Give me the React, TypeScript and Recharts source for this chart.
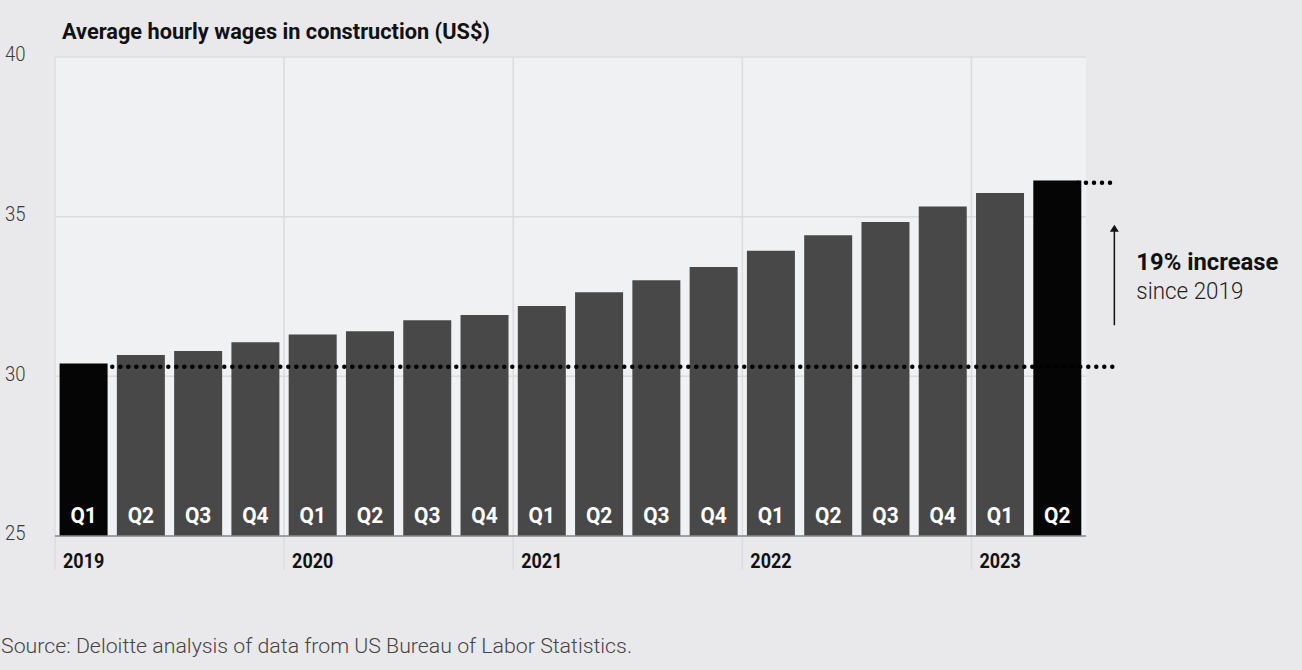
import React from 'react';
import { BarChart, Bar, XAxis, YAxis, CartesianGrid, Cell, LabelList, ReferenceLine } from 'recharts';

// quarterly average hourly wages in construction, US$
const years = ['2019', '2019', '2019', '2019', '2020', '2020', '2020', '2020', '2021', '2021', '2021', '2021', '2022', '2022', '2022', '2022', '2023', '2023'];
const quarters = ['Q1', 'Q2', 'Q3', 'Q4', 'Q1', 'Q2', 'Q3', 'Q4', 'Q1', 'Q2', 'Q3', 'Q4', 'Q1', 'Q2', 'Q3', 'Q4', 'Q1', 'Q2'];
const wages = [30.4, 30.67, 30.79, 31.07, 31.31, 31.41, 31.76, 31.92, 32.2, 32.63, 33.01, 33.42, 33.93, 34.42, 34.83, 35.32, 35.74, 36.13];
const highlighted = ['2019 Q1', '2023 Q2'];
const yTicks = [25, 30, 35, 40];

const startLevel = 30.3;
const endLevel = 36.06;
const arrowFrom = 31.6;
const arrowTo = 34.75;
const calloutBold = '19% increase';
const calloutText = 'since 2019';

const title = 'Average hourly wages in construction (US$)';
const source = 'Source: Deloitte analysis of data from US Bureau of Labor Statistics.';

const data = quarters.map((q, i) => ({ key: `${years[i]} ${q}`, year: years[i], quarter: q, wage: wages[i] }));

const FONT = 'Roboto, sans-serif';
const BAR = '#484848';
const BAR_DARK = '#050505';

// squeeze Roboto a bit so it reads like the narrow face of the original
const Narrow = ({ x, y, sx = 0.88, anchor = 'start', children, ...rest }: any) => (
  <g transform={`translate(${x},${y}) scale(${sx},1)`}>
    <text x={0} y={0} dy="0.35em" textAnchor={anchor} fontFamily={FONT} {...rest}>
      {children}
    </text>
  </g>
);

const YTick = (props: any) => {
  const { y, payload } = props;
  return (
    <Narrow x={5} y={y - 3} fontSize={21} fontWeight={300} fill="#3a3a3a">
      {payload.value}
    </Narrow>
  );
};

const YearTick = (props: any) => {
  const { x, y, payload } = props;
  const d = data.find((r) => r.key === payload.value);
  if (!d || d.quarter !== 'Q1') return null;
  const half = payload.offset || 28.6;
  return (
    <Narrow x={x - half + 8} y={y + 17} sx={0.9} fontSize={20} fontWeight="bold" fill="#111">
      {d.year}
    </Narrow>
  );
};

const QuarterLabel = (props: any) => {
  const { x, y, width, height, value } = props;
  return (
    <Narrow x={x + width / 2} y={y + height - 21} sx={0.95} anchor="middle" fontSize={22} fontWeight="bold" fill="#fff">
      {value}
    </Narrow>
  );
};

const dotStyle = { stroke: '#000', strokeWidth: 4.5, strokeDasharray: '0 8', strokeLinecap: 'round' as const };

const StartLine = (props: any) => {
  const { x1, x2, y1 } = props;
  const band = (x2 - x1) / data.length;
  return <line x1={x1 + band} x2={x2 + 28} y1={y1} y2={y1} {...dotStyle} />;
};

const EndLine = (props: any) => {
  const { x2, y1 } = props;
  return <line x1={x2 - 8} x2={x2 + 28} y1={y1} y2={y1} {...dotStyle} />;
};

const YearLine = (props: any) => {
  const { x1, y1, x2, y2 } = props;
  return <line x1={x1} x2={x2} y1={Math.min(y1, y2)} y2={Math.max(y1, y2) + 34} stroke="#dcdcdc" strokeWidth={1.5} />;
};

const Callout = (props: any) => {
  const { x1, y1, y2 } = props;
  const x = x1 + 57;
  const top = Math.min(y1, y2);
  const bottom = Math.max(y1, y2);
  const mid = (top + bottom) / 2;
  return (
    <g>
      <line x1={x} x2={x} y1={bottom} y2={top + 6} stroke="#111" strokeWidth={1.5} />
      <path d={`M${x - 4.5},${top + 7} L${x},${top} L${x + 4.5},${top + 7} Z`} fill="#111" />
      <text x={x + 22} y={mid - 13} dy="0.35em" fontFamily={FONT} fontSize={23} fontWeight="bold" fill="#111" textLength={142} lengthAdjust="spacingAndGlyphs">
        {calloutBold}
      </text>
      <text x={x + 22} y={mid + 16} dy="0.35em" fontFamily={FONT} fontSize={23} fontWeight={300} fill="#222" textLength={107} lengthAdjust="spacingAndGlyphs">
        {calloutText}
      </text>
    </g>
  );
};

const App = () => {
  const lastKey = data[data.length - 1].key;
  return (
    <div style={{ position: 'relative', width: 1302, height: 670, background: '#e9e9eb', fontFamily: FONT }}>
      <style>{'body{margin:0}'}</style>
      <svg width={1302} height={670} style={{ position: 'absolute', left: 0, top: 0 }}>
        <text x={62} y={31} dy="0.35em" fontFamily={FONT} fontSize={22} fontWeight="bold" fill="#111" textLength={428} lengthAdjust="spacingAndGlyphs">
          {title}
        </text>
        <text x={1} y={646} dy="0.35em" fontFamily={FONT} fontSize={21} fontWeight={300} fill="#444" textLength={631} lengthAdjust="spacingAndGlyphs">
          {source}
        </text>
      </svg>
      <div style={{ position: 'absolute', left: 0, top: 0 }}>
        <BarChart
          width={1302}
          height={670}
          data={data}
          margin={{ top: 57, right: 216, left: 0, bottom: 104 }}
          barCategoryGap="8%"
        >
          <CartesianGrid vertical={false} fill="#f0f1f3" stroke="#dcdcdc" strokeWidth={1.5} />
          <XAxis dataKey="key" interval={0} height={30} tickLine={false} axisLine={{ stroke: '#8a8a8a', strokeWidth: 1.5 }} tick={<YearTick />} />
          <YAxis domain={[25, 40]} ticks={yTicks} allowDataOverflow width={55} axisLine={false} tickLine={false} tick={<YTick />} />
          {data
            .filter((d) => d.quarter === 'Q1')
            .map((d) => (
              <ReferenceLine key={d.key} x={d.key} position="start" shape={<YearLine />} ifOverflow="visible" />
            ))}
          <Bar dataKey="wage" isAnimationActive={false}>
            {data.map((d) => (
              <Cell key={d.key} fill={highlighted.includes(d.key) ? BAR_DARK : BAR} />
            ))}
            <LabelList dataKey="quarter" content={<QuarterLabel />} />
          </Bar>
          <ReferenceLine y={startLevel} shape={<StartLine />} ifOverflow="visible" />
          <ReferenceLine y={endLevel} shape={<EndLine />} ifOverflow="visible" />
          <ReferenceLine
            segment={[{ x: lastKey, y: arrowFrom }, { x: lastKey, y: arrowTo }]}
            shape={<Callout />}
            ifOverflow="visible"
          />
        </BarChart>
      </div>
    </div>
  );
};

export default App;
